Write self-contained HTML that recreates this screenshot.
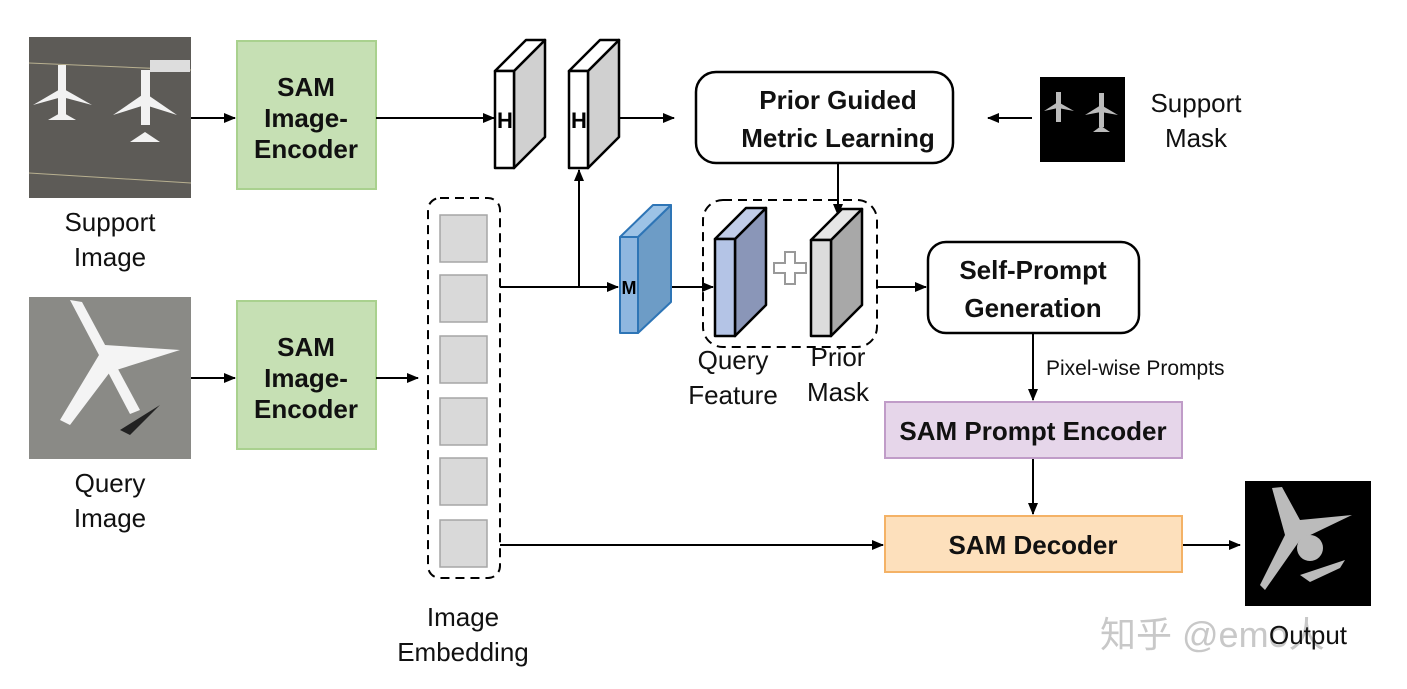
<!DOCTYPE html>
<html><head><meta charset="utf-8"><style>
html,body{margin:0;padding:0;background:#fff;}
svg{display:block;}
text{font-family:"Liberation Sans","Noto Sans CJK SC",sans-serif;}
.l{font-size:26px;fill:#111;text-anchor:middle;}
.b{font-size:26px;font-weight:bold;fill:#111;text-anchor:middle;}
</style></head><body>
<svg width="1407" height="689" viewBox="0 0 1407 689" xmlns="http://www.w3.org/2000/svg">
<defs>
<marker id="a" markerWidth="12" markerHeight="12" refX="11" refY="6" orient="auto" markerUnits="userSpaceOnUse"><path d="M0,1 L12,6 L0,11 z" fill="#000"/></marker>
</defs>
<!-- support image -->
<rect x="29" y="37" width="162" height="161" fill="#5d5b57"/>
<line x1="29" y1="63" x2="191" y2="70" stroke="#b8b090" stroke-width="1"/>
<line x1="29" y1="173" x2="191" y2="183" stroke="#b8b090" stroke-width="1"/>
<rect x="150" y="60" width="40" height="12" fill="#ddd"/>
<g fill="#f2f2f2">
<rect x="58" y="65" width="8" height="50"/><polygon points="33,105 62,88 92,105 62,97"/><polygon points="48,120 62,112 76,120"/>
<rect x="141" y="70" width="9" height="55"/><polygon points="113,115 145,93 177,115 145,105"/><polygon points="130,142 145,132 160,142"/>
</g>
<text class="l" x="110" y="231">Support</text><text class="l" x="110" y="266">Image</text>
<!-- query image -->
<rect x="29" y="297" width="162" height="162" fill="#8a8a86"/>
<g fill="#f4f4f4"><polygon points="70,300 82,302 140,410 130,414"/><polygon points="60,420 105,345 180,350 110,372 70,425"/></g>
<polygon points="120,430 160,405 130,435" fill="#222"/>
<text class="l" x="110" y="492">Query</text><text class="l" x="110" y="527">Image</text>
<!-- encoders -->
<rect x="237" y="41" width="139" height="148" fill="#c6e0b4" stroke="#a9d18e" stroke-width="2"/>
<text class="b" x="306" y="96">SAM</text><text class="b" x="306" y="127">Image-</text><text class="b" x="306" y="158">Encoder</text>
<rect x="237" y="301" width="139" height="148" fill="#c6e0b4" stroke="#a9d18e" stroke-width="2"/>
<text class="b" x="306" y="356">SAM</text><text class="b" x="306" y="387">Image-</text><text class="b" x="306" y="418">Encoder</text>
<g stroke="#000" stroke-width="2" fill="none">
<line x1="191" y1="118" x2="235" y2="118" marker-end="url(#a)"/>
<line x1="191" y1="378" x2="235" y2="378" marker-end="url(#a)"/>
<line x1="376" y1="118" x2="494" y2="118" marker-end="url(#a)"/>
<line x1="376" y1="378" x2="418" y2="378" marker-end="url(#a)"/>
<line x1="620" y1="118" x2="674" y2="118" marker-end="url(#a)"/>
<line x1="1032" y1="118" x2="988" y2="118" marker-end="url(#a)"/>
<line x1="500" y1="287" x2="618" y2="287" marker-end="url(#a)"/>
<line x1="579" y1="287" x2="579" y2="170" marker-end="url(#a)"/>
<line x1="660" y1="287" x2="713" y2="287" marker-end="url(#a)"/>
<line x1="838" y1="163" x2="838" y2="215" marker-end="url(#a)"/>
<line x1="877" y1="287" x2="926" y2="287" marker-end="url(#a)"/>
<line x1="1033" y1="333" x2="1033" y2="400" marker-end="url(#a)"/>
<line x1="1033" y1="458" x2="1033" y2="514" marker-end="url(#a)"/>
<line x1="500" y1="545" x2="883" y2="545" marker-end="url(#a)"/>
<line x1="1182" y1="545" x2="1240" y2="545" marker-end="url(#a)"/>
</g>
<!-- H blocks -->
<g stroke="#000" stroke-width="2.5" stroke-linejoin="round">
<polygon points="514,71 545,40 545,137 514,168" fill="#d0d0d0"/>
<polygon points="495,71 526,40 545,40 514,71" fill="#fff"/>
<rect x="495" y="71" width="19" height="97" fill="#fff"/>
<polygon points="588,71 619,40 619,137 588,168" fill="#d0d0d0"/>
<polygon points="569,71 600,40 619,40 588,71" fill="#fff"/>
<rect x="569" y="71" width="19" height="97" fill="#fff"/>
</g>
<text x="505" y="128" font-size="22" font-weight="bold" text-anchor="middle">H</text>
<text x="579" y="128" font-size="22" font-weight="bold" text-anchor="middle">H</text>
<!-- M block -->
<g stroke="#2e75b6" stroke-width="2" stroke-linejoin="round">
<polygon points="638,237 671,205 671,302 638,333" fill="#6d9cc6"/>
<polygon points="620,237 653,205 671,205 638,237" fill="#9dc3e6"/>
<rect x="620" y="237" width="18" height="96" fill="#8fb7e0"/>
</g>
<text x="629" y="294" font-size="18" font-weight="bold" text-anchor="middle">M</text>
<!-- dashed group -->
<rect x="703" y="200" width="174" height="147" rx="20" fill="none" stroke="#000" stroke-width="2" stroke-dasharray="9,6"/>
<g stroke="#000" stroke-width="2.5" stroke-linejoin="round">
<polygon points="735,239 766,208 766,305 735,336" fill="#8a96b8"/>
<polygon points="715,239 746,208 766,208 735,239" fill="#c0cce8"/>
<rect x="715" y="239" width="20" height="97" fill="#b4c4e6"/>
<polygon points="831,240 862,209 862,305 831,336" fill="#a8a8a8"/>
<polygon points="811,240 842,209 862,209 831,240" fill="#e6e6e6"/>
<rect x="811" y="240" width="20" height="96" fill="#dcdcdc"/>
</g>
<path d="M785,252 h10 v11 h11 v10 h-11 v11 h-10 v-11 h-11 v-10 h11 z" fill="#fff" stroke="#999" stroke-width="2"/>
<text class="l" x="733" y="369">Query</text><text class="l" x="733" y="404">Feature</text>
<text class="l" x="838" y="366">Prior</text><text class="l" x="838" y="401">Mask</text>
<!-- embedding -->
<rect x="428" y="198" width="72" height="380" rx="12" fill="none" stroke="#000" stroke-width="2" stroke-dasharray="9,6"/>
<g fill="#d9d9d9" stroke="#a6a6a6" stroke-width="1.5">
<rect x="440" y="215" width="47" height="47"/><rect x="440" y="275" width="47" height="47"/>
<rect x="440" y="336" width="47" height="47"/><rect x="440" y="398" width="47" height="47"/>
<rect x="440" y="458" width="47" height="47"/><rect x="440" y="520" width="47" height="47"/>
</g>
<text class="l" x="463" y="626">Image</text><text class="l" x="463" y="661">Embedding</text>
<!-- PGML -->
<rect x="696" y="72" width="257" height="91" rx="20" fill="#fff" stroke="#000" stroke-width="2.5"/>
<text class="b" x="838" y="109" font-size="28">Prior Guided</text>
<text class="b" x="838" y="147" font-size="28">Metric Learning</text>
<!-- support mask -->
<rect x="1040" y="77" width="85" height="85" fill="#000"/>
<g fill="#bbb"><rect x="1056" y="92" width="5" height="30"/><polygon points="1044,111 1058,102 1074,111 1058,108"/>
<rect x="1099" y="93" width="5" height="34"/><polygon points="1085,115 1101,105 1118,115 1101,112"/><polygon points="1093,132 1101,126 1110,132"/></g>
<text class="l" x="1196" y="112">Support</text><text class="l" x="1196" y="147">Mask</text>
<!-- self prompt -->
<rect x="928" y="242" width="211" height="91" rx="18" fill="#fff" stroke="#000" stroke-width="2.5"/>
<text class="b" x="1033" y="279" font-size="28">Self-Prompt</text>
<text class="b" x="1033" y="317" font-size="28">Generation</text>
<text x="1046" y="375" font-size="21" fill="#111">Pixel-wise Prompts</text>
<rect x="885" y="402" width="297" height="56" fill="#e6d6ea" stroke="#c09cc8" stroke-width="2"/>
<text class="b" x="1033" y="440" font-size="25">SAM Prompt Encoder</text>
<rect x="885" y="516" width="297" height="56" fill="#fde0bc" stroke="#f4b266" stroke-width="2"/>
<text class="b" x="1033" y="554" font-size="25">SAM Decoder</text>
<!-- output -->
<rect x="1245" y="481" width="126" height="125" fill="#000"/>
<g fill="#bbb"><polygon points="1272,488 1282,487 1300,520 1352,515 1300,540 1265,590 1260,585 1285,535"/>
<circle cx="1310" cy="548" r="13"/><polygon points="1300,575 1345,560 1340,568 1310,582"/></g>
<text x="1100" y="647" font-size="36" fill="#c8c8c8">知乎 @emo人</text>
<text x="1308" y="644" font-size="26" fill="#111" text-anchor="middle">Output</text>
</svg>
</body></html>
